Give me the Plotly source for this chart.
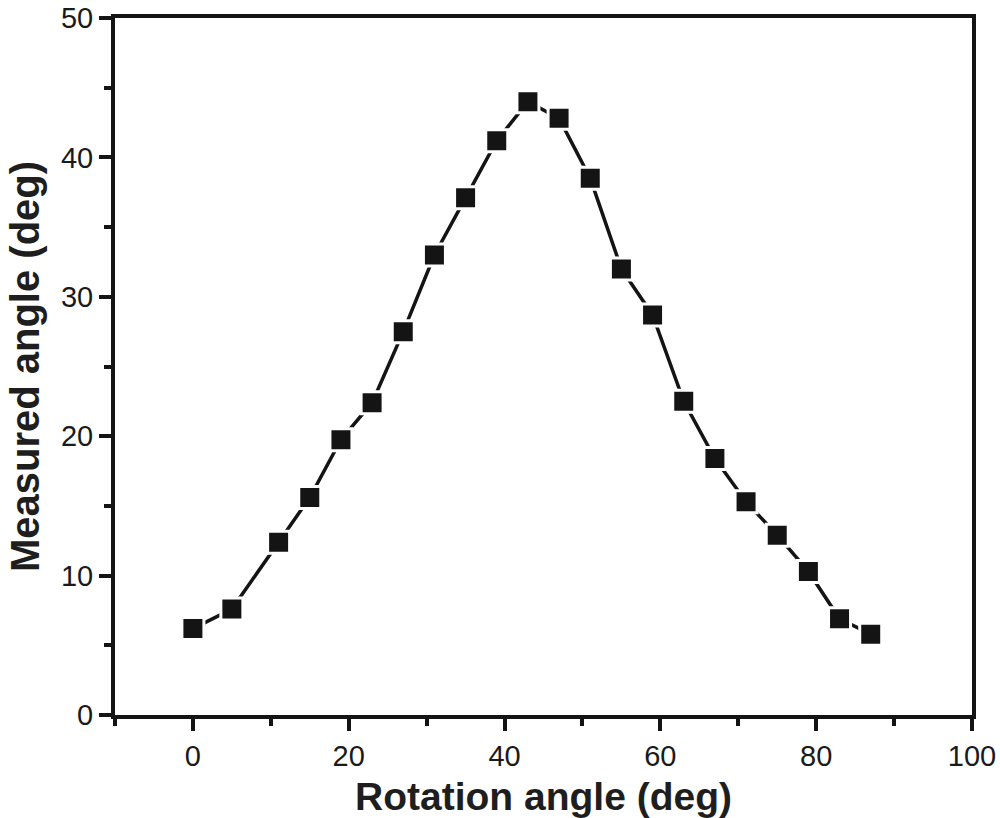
import plotly.graph_objects as go

rotation = [0, 5, 11, 15, 19, 23, 27, 31, 35, 39, 43, 47, 51, 55, 59, 63, 67, 71, 75, 79, 83, 87]
measured = [6.2, 7.6, 12.4, 15.6, 19.75, 22.4, 27.5, 33.0, 37.1, 41.2, 44.0, 42.8, 38.5, 32.0, 28.7,
            22.5, 18.4, 15.3, 12.9, 10.3, 6.9, 5.8]

fig = go.Figure()
fig.add_trace(go.Scatter(
    x=rotation, y=measured, mode="lines+markers",
    line=dict(color="#141414", width=3.5),
    marker=dict(symbol="square", size=22, color="#141414",
                line=dict(color="white", width=3)),
    showlegend=False,
))

axis_common = dict(
    showline=True, linecolor="#141414", linewidth=4, mirror=True,
    ticks="outside", tickwidth=4, tickcolor="#141414", ticklen=12,
    showgrid=False, zeroline=False, automargin=False,
    tickfont=dict(family="Liberation Sans, Arial", size=29, color="#1a1a1a"),
    minor=dict(ticks="outside", ticklen=7, tickwidth=4, tickcolor="#141414", showgrid=False),
)

fig.update_xaxes(range=[-10, 100], tickvals=[0, 20, 40, 60, 80, 100],
                 minor_tickvals=[-10, 10, 30, 50, 70, 90],
                 title=dict(text="<b>Rotation angle (deg)</b>", standoff=16,
                            font=dict(family="Liberation Sans, Arial", size=39, color="#1e1e1e")),
                 **axis_common)
fig.update_yaxes(range=[0, 50], tickvals=[0, 10, 20, 30, 40, 50],
                 minor_tickvals=[5, 15, 25, 35, 45],
                 title=dict(text="<b>Measured angle (deg)</b>", standoff=10,
                            font=dict(family="Liberation Sans, Arial", size=40, color="#1e1e1e")),
                 **axis_common)

fig.update_layout(
    width=1000, height=818,
    margin=dict(l=115, r=28, t=18, b=103),
    plot_bgcolor="white", paper_bgcolor="white",
)

fig.write_html("out.html")
